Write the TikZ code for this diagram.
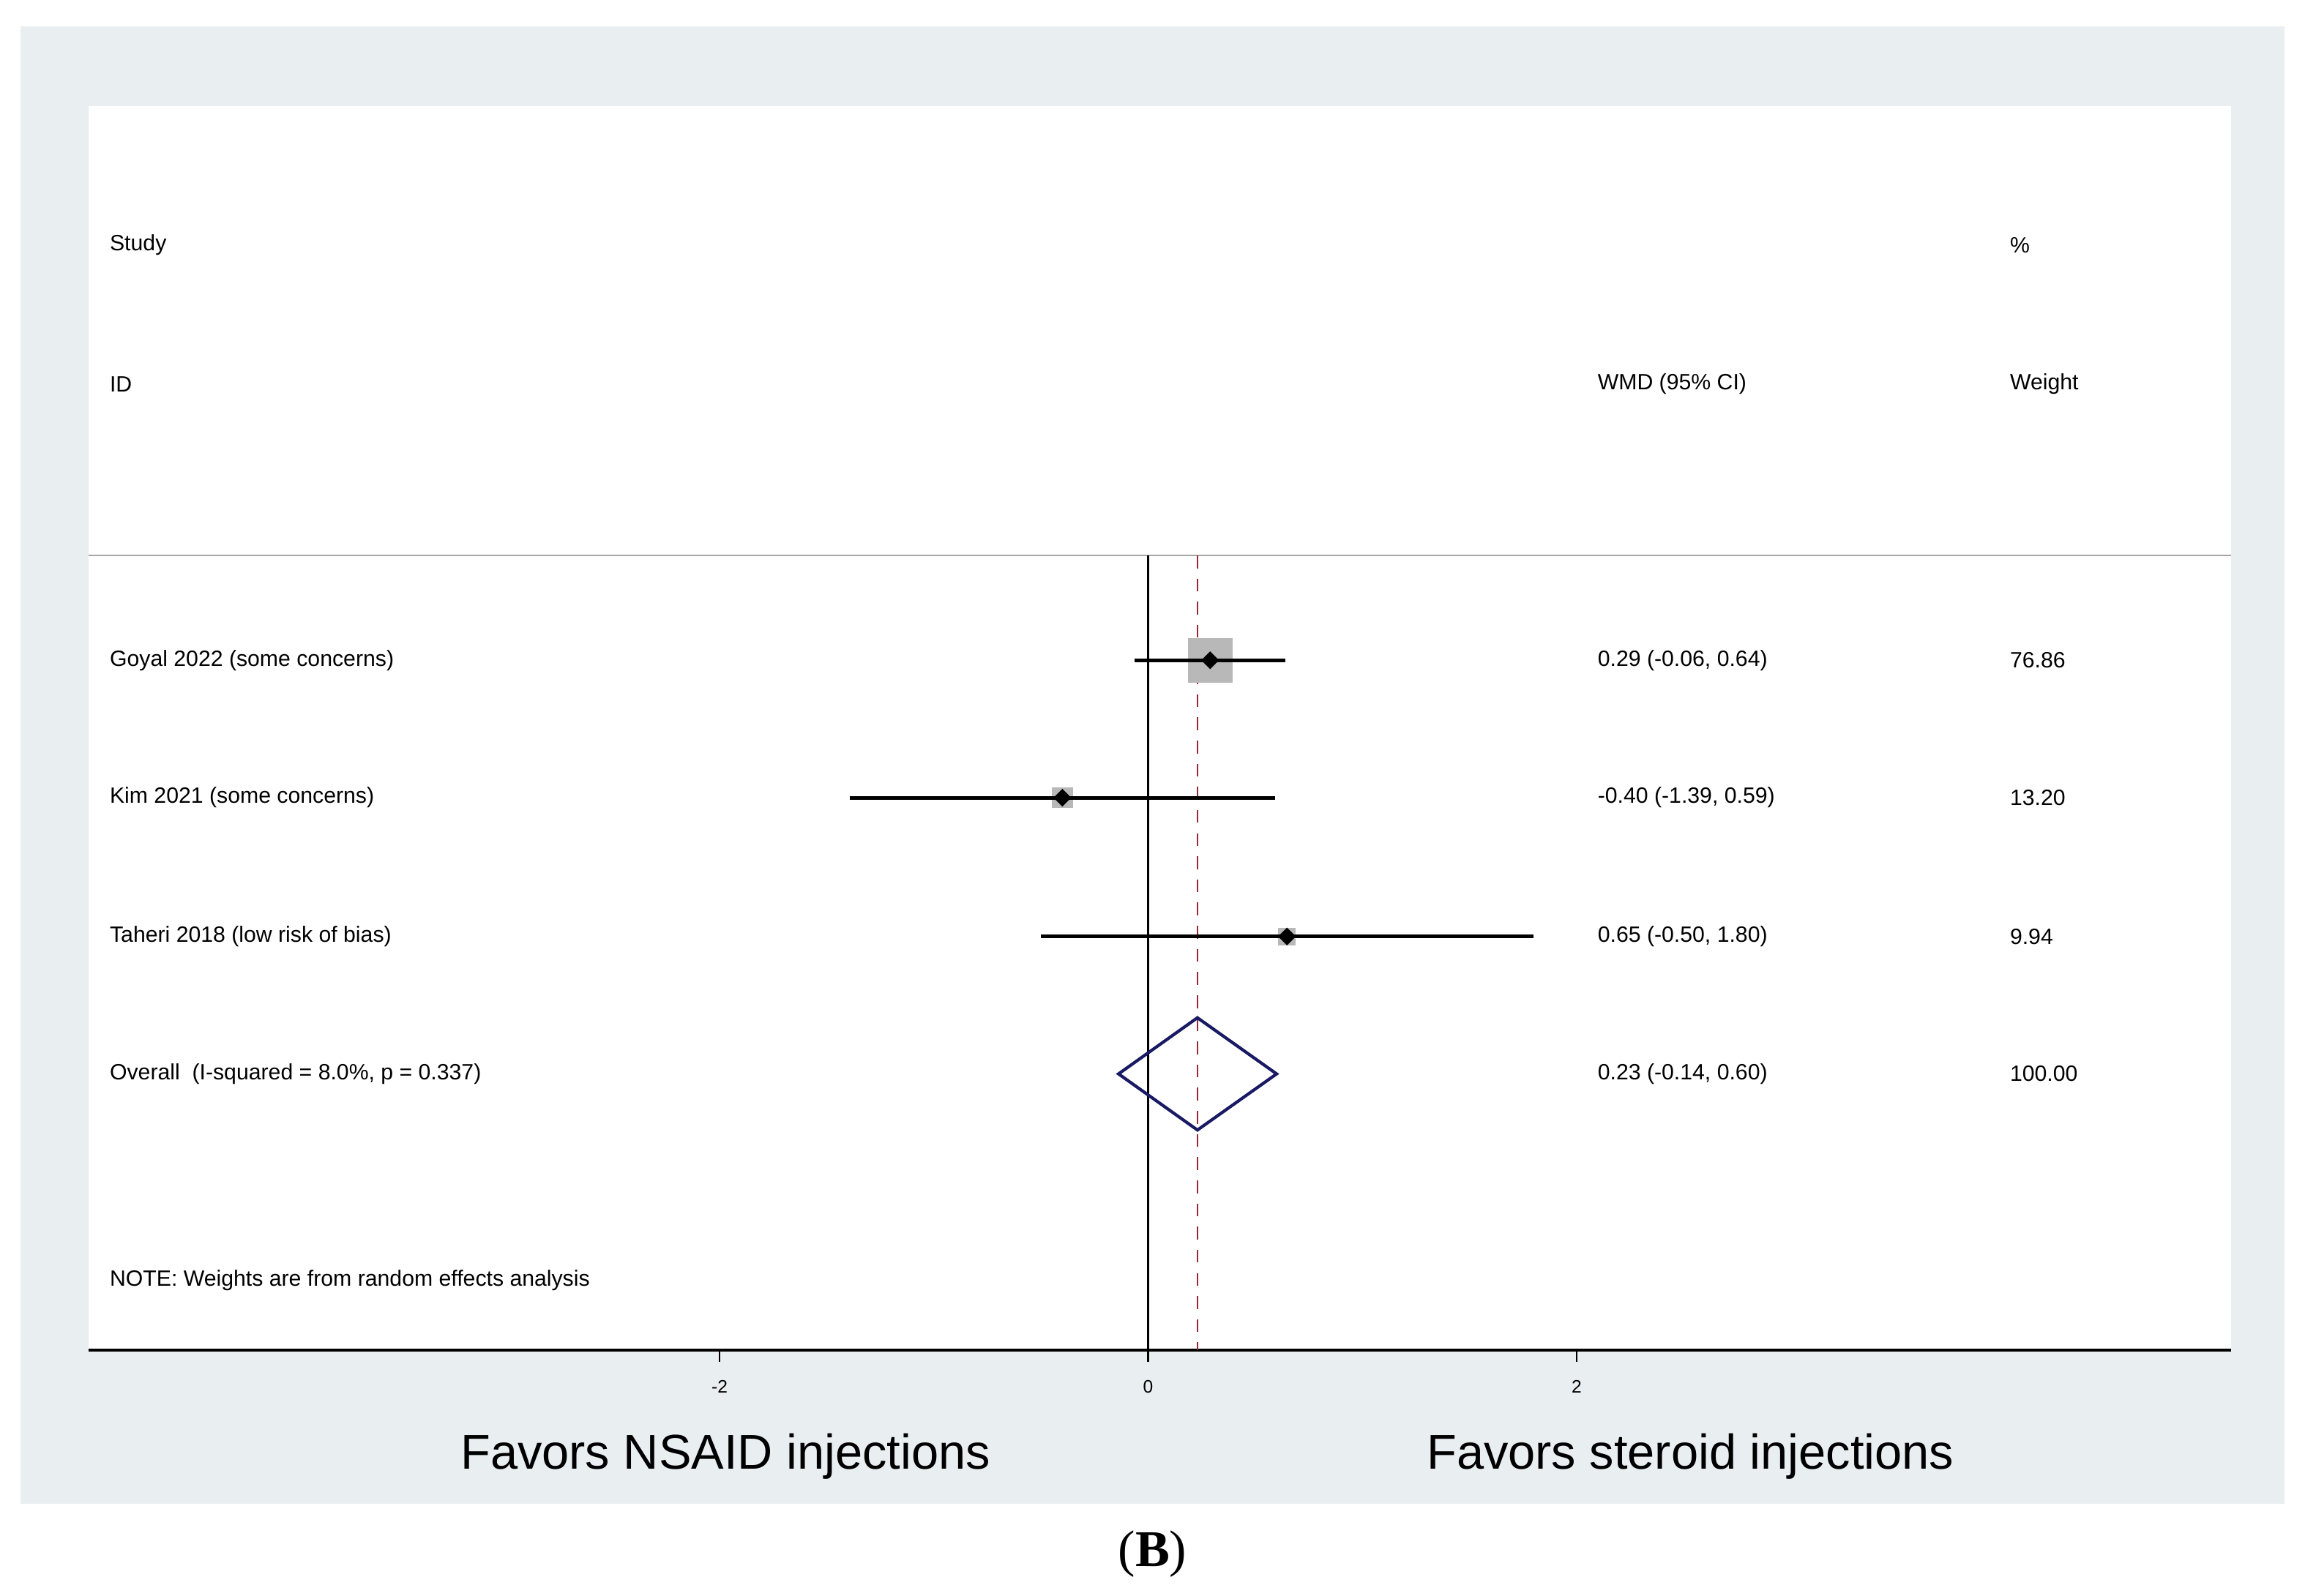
\documentclass[tikz,border=0pt]{standalone}
\usepackage{fontspec}
\setmainfont{Liberation Sans}
\newfontfamily\capfont{Liberation Serif}
\begin{document}
\begin{tikzpicture}[x=0.020185cm,y=-0.020185cm,
  txt/.style={anchor=west,inner sep=0pt,font=\fontsize{8.6}{10}\selectfont},
  tick/.style={anchor=north,inner sep=0pt,font=\fontsize{7}{8}\selectfont},
  ci/.style={line width=1.4pt},
  wbox/.style={fill=black!28,draw=none},
  pt/.style={fill=black,draw=none}]
\useasboundingbox (0,0) rectangle (1560,1080);
\fill[white] (0,0) rectangle (1560,1080);
\fill[fill={rgb,255:red,233;green,238;blue,241}] (14,18) rectangle (1546,1018);
\fill[white] (60,72) rectangle (1510,914);
\draw[black!35,line width=0.6pt] (60,376) -- (1510,376);
% axis
\coordinate (axl) at (60,914); \coordinate (axr) at (1510,914);
\draw[line width=0.9pt] (axl) -- (axr);
\foreach \v/\x in {-2/487,0/777,2/1067}{
  \draw[line width=0.7pt] (\x,914) -- (\x,922);
  \node[tick] at (\x,934) {\v};}
\coordinate (z1) at (777,376); \coordinate (z2) at (777,914);
\draw[line width=0.8pt] (z1) -- (z2);
\coordinate (d1) at (810.4,376); \coordinate (d2) at (810.4,914);
\draw[dashed,dash pattern=on 5pt off 4pt,color={rgb,255:red,150;green,40;blue,60},line width=0.6pt] (d1) -- (d2);
% studies
\fill[wbox] (819-15,447-15) rectangle (819+15,447+15);
\draw[ci] (768,447) -- (870,447);
\fill[pt] (819,441) -- (825,447) -- (819,453) -- (813,447) -- cycle;
\fill[wbox] (719-7,540-7) rectangle (719+7,540+7);
\draw[ci] (575,540) -- (863,540);
\fill[pt] (719,534) -- (725,540) -- (719,546) -- (713,540) -- cycle;
\fill[wbox] (871-6,634-6) rectangle (871+6,634+6);
\draw[ci] (704.5,634) -- (1038,634);
\fill[pt] (871,628) -- (877,634) -- (871,640) -- (865,634) -- cycle;
\draw[color={rgb,255:red,25;green,25;blue,100},line width=1.2pt] (757,727) -- (810.4,689) -- (864,727) -- (810.4,765) -- cycle;
% texts
\node[txt] (study) at (74,166) {Study};
\node[txt] (id) at (74,260) {ID};
\node[txt] (pct) at (1360,166) {\%};
\node[txt] (wmd) at (1081,260) {WMD (95\% CI)};
\node[txt] (wt) at (1360,260) {Weight};
\node[txt] (r1) at (74,447) {Goyal 2022 (some concerns)};
\node[txt] (r2) at (74,540) {Kim 2021 (some concerns)};
\node[txt] (r3) at (74,634) {Taheri 2018 (low risk of bias)};
\node[txt] (r4) at (74,727) {Overall\ \ (I-squared = 8.0\%, p = 0.337)};
\node[txt] (note) at (74,867) {NOTE: Weights are from random effects analysis};
\node[txt] (e1) at (1081,447) {0.29 (-0.06, 0.64)};
\node[txt] (e2) at (1081,540) {-0.40 (-1.39, 0.59)};
\node[txt] (e3) at (1081,634) {0.65 (-0.50, 1.80)};
\node[txt] (e4) at (1081,727) {0.23 (-0.14, 0.60)};
\node[txt] (w1) at (1360,447) {76.86};
\node[txt] (w2) at (1360,540) {13.20};
\node[txt] (w3) at (1360,634) {9.94};
\node[txt] (w4) at (1360,727) {100.00};
\node[inner sep=0pt,font=\fontsize{19}{22}\selectfont] (fl) at (491,986) {Favors NSAID injections};
\node[inner sep=0pt,font=\fontsize{19}{22}\selectfont] (fr) at (1144,986) {Favors steroid injections};
\node[inner sep=0pt,font=\capfont\fontsize{20}{24}\selectfont] (cap) at (780,1052) {(\textbf{B})};
\end{tikzpicture}
\end{document}
